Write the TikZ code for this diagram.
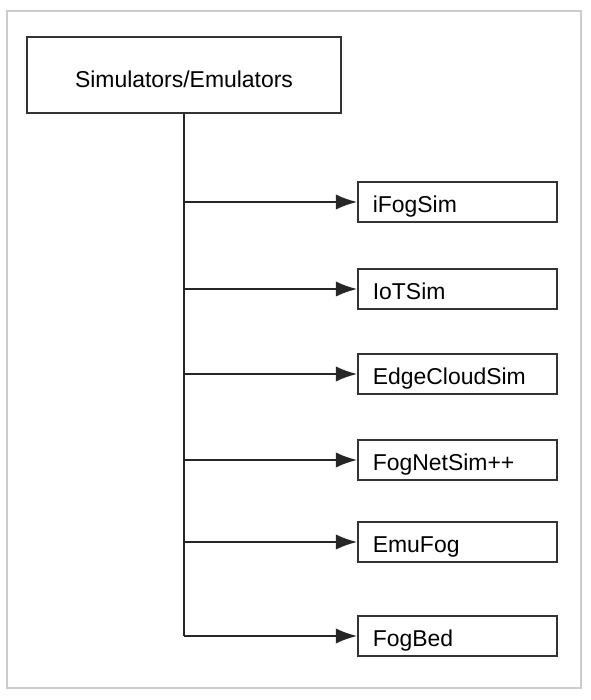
\documentclass[tikz,border=0pt]{standalone}
\usepackage{fontspec}
\setmainfont{Liberation Sans}
\usetikzlibrary{arrows.meta}

\begin{document}
\begin{tikzpicture}
                \tikzset{x={(0.75pt, 0pt)}, y={(0pt, -0.75pt)}}
                \tikzset{
                    rootbox/.style={draw=black!80, line width=1.5pt, minimum width=236pt, minimum height=57pt, text height=19.1pt, text depth=0pt, font=\fontsize{17.2}{20}\selectfont},
                    toolbox/.style={draw=black!80, line width=1.5pt, minimum height=30pt, text width=127pt, text height=16.3pt, text depth=0pt, inner xsep=11pt, align=left, font=\fontsize{17.2}{20}\selectfont},
                    spine/.style={draw=black!85, line width=1.5pt},
                    branch/.style={draw=black!85, line width=1.5pt, -{Latex[length=16pt, width=11.5pt]}}
                }
                \useasboundingbox (0, 0) rectangle (590, 700);
                \draw[black!20, line width=1.5pt] (7, 11) rectangle (581, 688);
                \node[rootbox] (sim) at (184, 74.5) {Simulators/Emulators};
                \node[toolbox] (ifogsim)    at (457.5, 202) {iFogSim};
                \node[toolbox] (iotsim)     at (457.5, 289) {IoTSim};
                \node[toolbox] (edgecloud)  at (457.5, 374) {EdgeCloudSim};
                \node[toolbox] (fognetsim)  at (457.5, 460) {FogNetSim++};
                \node[toolbox] (emufog)     at (457.5, 542) {EmuFog};
                \node[toolbox] (fogbed)     at (457.5, 636) {FogBed};
                \draw[spine] (sim.south) -- (sim.south |- fogbed.west);
                \draw[branch] (sim.south |- ifogsim.west)   -- (ifogsim.west);
                \draw[branch] (sim.south |- iotsim.west)    -- (iotsim.west);
                \draw[branch] (sim.south |- edgecloud.west) -- (edgecloud.west);
                \draw[branch] (sim.south |- fognetsim.west) -- (fognetsim.west);
                \draw[branch] (sim.south |- emufog.west)    -- (emufog.west);
                \draw[branch] (sim.south |- fogbed.west)    -- (fogbed.west);
            \end{tikzpicture}
\end{document}
